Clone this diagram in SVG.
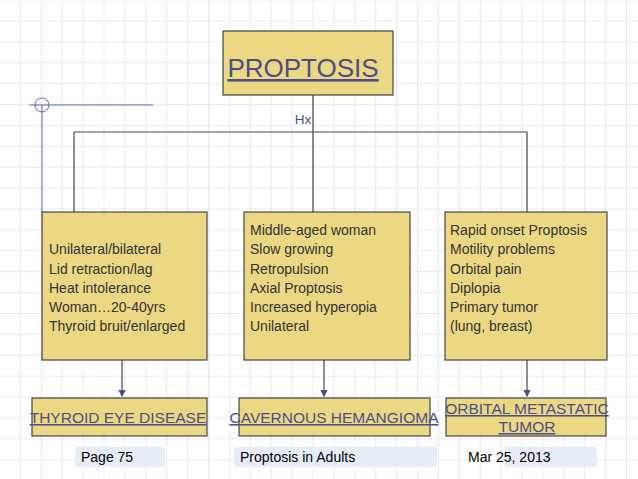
<svg xmlns="http://www.w3.org/2000/svg" width="638" height="479" viewBox="0 0 638 479">
<defs>
<pattern id="g" width="20.9" height="20.9" patternUnits="userSpaceOnUse" x="0" y="0.5">
<path d="M20.9 0V20.9M0 20.9H20.9" fill="none" stroke="#c9d5ea" stroke-width="1"/>
</pattern>
<marker id="a" markerWidth="6" markerHeight="6" refX="5" refY="3" orient="auto"><path d="M0 0L6 3L0 6z" fill="#4a4f80"/></marker>
<style>
.b{fill:#ecd782;stroke:#444;stroke-width:1.2}
.t{font-family:"Liberation Sans",Arial,sans-serif;font-size:14px;fill:#333}
.h{font-family:"Liberation Sans",Arial,sans-serif;fill:#4a4f8a;text-decoration:underline}
.c{stroke:#444;stroke-width:1.2;fill:none}
.f{fill:#e6ecf8}
.k{font-family:"Liberation Sans",Arial,sans-serif;font-size:14px;fill:#000}
</style>
</defs>
<rect width="638" height="479" fill="#fff"/>
<rect width="638" height="479" fill="url(#g)"/>
<g stroke="#5a6bb0" fill="none" stroke-width="1">
<circle cx="42" cy="105" r="7"/><path d="M29 105H153M42 105V212"/>
</g>
<g id="connectors">
<path class="c" d="M313 95V212M74 132H527M74 132V212M527 132V212"/>
<path class="c" d="M122 360V396" marker-end="url(#a)" stroke="#4a4f80"/>
<path class="c" d="M324 360V396" marker-end="url(#a)" stroke="#4a4f80"/>
<path class="c" d="M527 360V396" marker-end="url(#a)" stroke="#4a4f80"/>
</g>
<g id="n-root"><rect class="b" x="223" y="31" width="170" height="64"/>
<text class="h" x="303" y="77" font-size="26" text-anchor="middle">PROPTOSIS</text></g>
<text x="303" y="124" text-anchor="middle" style="font-family:'Liberation Sans',Arial,sans-serif;font-size:13.5px;fill:#4a4f8a">Hx</text>
<g id="n-l"><rect class="b" x="42" y="212" width="165" height="148"/>
<text class="t" x="49" y="254">Unilateral/bilateral</text><text class="t" x="49" y="274">Lid retraction/lag</text><text class="t" x="49" y="293">Heat intolerance</text><text class="t" x="49" y="312">Woman…20-40yrs</text><text class="t" x="49" y="331">Thyroid bruit/enlarged</text></g>
<g id="n-m"><rect class="b" x="244" y="212" width="166" height="148"/>
<text class="t" x="250" y="235">Middle-aged woman</text><text class="t" x="250" y="254">Slow growing</text><text class="t" x="250" y="274">Retropulsion</text><text class="t" x="250" y="293">Axial Proptosis</text><text class="t" x="250" y="312">Increased hyperopia</text><text class="t" x="250" y="331">Unilateral</text></g>
<g id="n-r"><rect class="b" x="445" y="212" width="162" height="148"/>
<text class="t" x="450" y="235">Rapid onset Proptosis</text><text class="t" x="450" y="254">Motility problems</text><text class="t" x="450" y="274">Orbital pain</text><text class="t" x="450" y="293">Diplopia</text><text class="t" x="450" y="312">Primary tumor</text><text class="t" x="450" y="331">(lung, breast)</text></g>
<g id="n-bl"><rect class="b" x="32" y="398" width="175" height="38"/>
<text class="h" x="118" y="423" font-size="15.5" text-anchor="middle">THYROID EYE DISEASE</text></g>
<g id="n-bm"><rect class="b" x="239" y="398" width="191" height="38"/>
<text class="h" x="334" y="423" font-size="15.5" text-anchor="middle">CAVERNOUS HEMANGIOMA</text></g>
<g id="n-br"><rect class="b" x="446" y="398" width="160" height="38"/>
<text class="h" x="527" y="414" font-size="15.5" text-anchor="middle">ORBITAL METASTATIC</text>
<text class="h" x="527" y="432" font-size="15.5" text-anchor="middle">TUMOR</text></g>
<g id="footer">
<rect class="f" x="75" y="447" width="90" height="20"/><rect class="f" x="234" y="447" width="203" height="20"/><rect class="f" x="505" y="447" width="92" height="20"/>
<text class="k" x="81" y="462">Page 75</text>
<text class="k" x="240" y="462">Proptosis in Adults</text>
<text class="k" x="468" y="462">Mar 25, 2013</text>
</g>
</svg>
